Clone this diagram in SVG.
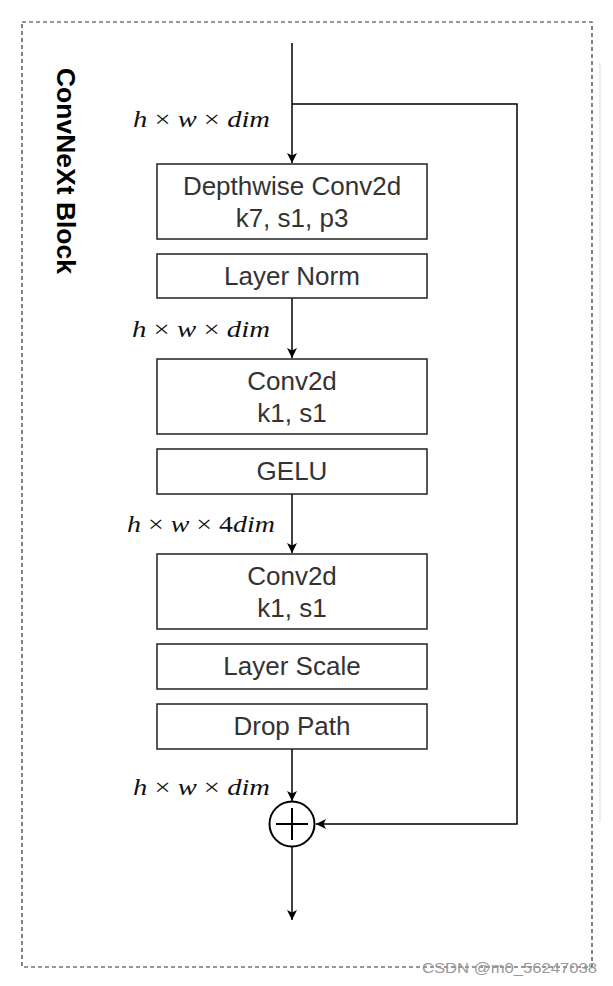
<svg xmlns="http://www.w3.org/2000/svg" width="613" height="986" viewBox="0 0 613 986">
<style>
.box{fill:#fff;stroke:#222;stroke-width:1.5}
.bt{font-family:"Liberation Sans",Arial,sans-serif;font-size:26px;fill:#333;text-anchor:middle}
.ln{fill:none;stroke:#000;stroke-width:1.5}
.math{font-family:"Liberation Serif","DejaVu Serif",serif;font-size:23px;fill:#111}
.it{font-style:italic}
</style>
<defs>
<marker id="ah" viewBox="0 0 10 10" refX="10" refY="5" markerWidth="10" markerHeight="10" markerUnits="userSpaceOnUse" orient="auto">
<path d="M0,0 L10,5 L0,10 L2.5,5 Z" fill="#000"/>
</marker>
</defs>
<rect width="613" height="986" fill="#fff"/>
<g id="frame">
<rect x="22" y="22" width="570" height="945" fill="none" stroke="#333" stroke-width="1.2" stroke-dasharray="4 3"/>
<line x1="600" y1="63" x2="600" y2="822" stroke="#e6e6e6" stroke-width="1.5"/>
<text x="57" y="171" transform="rotate(90 57 171)" font-family="'Liberation Sans',Arial,sans-serif" font-weight="bold" font-size="26" text-anchor="middle" fill="#000" textLength="206" lengthAdjust="spacingAndGlyphs">ConvNeXt Block</text>
</g>
<g id="connectors">
<line class="ln" x1="292" y1="43" x2="292" y2="163" marker-end="url(#ah)"/>
<polyline class="ln" points="292,104 517,104 517,824 316,824" marker-end="url(#ah)"/>
<line class="ln" x1="292" y1="298" x2="292" y2="358" marker-end="url(#ah)"/>
<line class="ln" x1="292" y1="494" x2="292" y2="553" marker-end="url(#ah)"/>
<line class="ln" x1="292" y1="749" x2="292" y2="801" marker-end="url(#ah)"/>
<line class="ln" x1="292" y1="847" x2="292" y2="920" marker-end="url(#ah)"/>
</g>
<g id="labels">
<text class="math" x="133" y="127" textLength="137" lengthAdjust="spacingAndGlyphs"><tspan class="it">h</tspan> × <tspan class="it">w</tspan> × <tspan class="it">dim</tspan></text>
<text class="math" x="132" y="337" textLength="138" lengthAdjust="spacingAndGlyphs"><tspan class="it">h</tspan> × <tspan class="it">w</tspan> × <tspan class="it">dim</tspan></text>
<text class="math" x="127" y="532" textLength="148" lengthAdjust="spacingAndGlyphs"><tspan class="it">h</tspan> × <tspan class="it">w</tspan> × 4<tspan class="it">dim</tspan></text>
<text class="math" x="133" y="795" textLength="137" lengthAdjust="spacingAndGlyphs"><tspan class="it">h</tspan> × <tspan class="it">w</tspan> × <tspan class="it">dim</tspan></text>
</g>
<g id="dwconv">
<rect class="box" x="157" y="164" width="270" height="75"/>
<text class="bt" x="292" y="195">Depthwise Conv2d</text>
<text class="bt" x="292" y="227">k7, s1, p3</text>
</g>
<g id="layernorm">
<rect class="box" x="157" y="254" width="270" height="44"/>
<text class="bt" x="292" y="285">Layer Norm</text>
</g>
<g id="conv1">
<rect class="box" x="157" y="359" width="270" height="75"/>
<text class="bt" x="292" y="390">Conv2d</text>
<text class="bt" x="292" y="422">k1, s1</text>
</g>
<g id="gelu">
<rect class="box" x="157" y="449" width="270" height="45"/>
<text class="bt" x="292" y="480">GELU</text>
</g>
<g id="conv2">
<rect class="box" x="157" y="554" width="270" height="75"/>
<text class="bt" x="292" y="585">Conv2d</text>
<text class="bt" x="292" y="617">k1, s1</text>
</g>
<g id="layerscale">
<rect class="box" x="157" y="644" width="270" height="45"/>
<text class="bt" x="292" y="675">Layer Scale</text>
</g>
<g id="droppath">
<rect class="box" x="157" y="704" width="270" height="45"/>
<text class="bt" x="292" y="735">Drop Path</text>
</g>
<g id="add">
<circle cx="292" cy="824" r="22.5" fill="#fff" stroke="#000" stroke-width="2"/>
<line x1="276" y1="824" x2="308" y2="824" stroke="#000" stroke-width="2"/>
<line x1="292" y1="808" x2="292" y2="840" stroke="#000" stroke-width="2"/>
</g>
<text x="422" y="973" font-family="'Liberation Sans',Arial,sans-serif" font-size="14" fill="#999" textLength="175" lengthAdjust="spacingAndGlyphs">CSDN @m0_56247038</text>
</svg>
